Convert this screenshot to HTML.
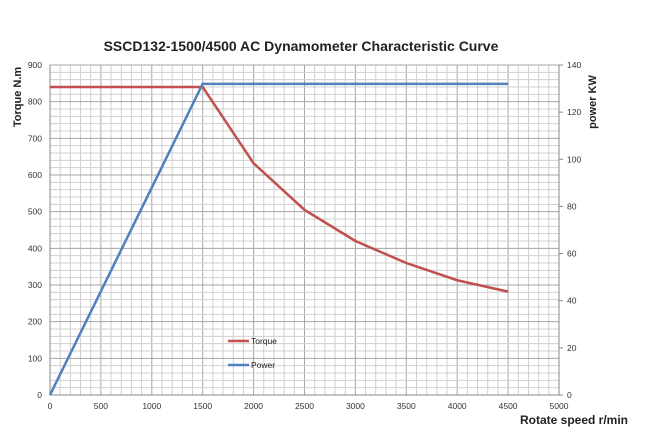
<!DOCTYPE html>
<html><head><meta charset="utf-8"><style>
body{margin:0;background:#fff;font-family:"Liberation Sans",sans-serif}
text{font-family:"Liberation Sans",sans-serif}
</style></head><body>
<svg id="c" width="650" height="429" xmlns="http://www.w3.org/2000/svg">
<g id="grid"></g>
<g id="axes"></g>
<g id="series"></g>
<text x="301" y="51" text-anchor="middle" font-size="14" font-weight="bold" fill="#222">SSCD132-1500/4500 AC Dynamometer Characteristic Curve</text>
<text transform="translate(21,97) rotate(-90)" text-anchor="middle" font-size="11" font-weight="bold" fill="#222">Torque N.m</text>
<text transform="translate(596,102) rotate(-90)" text-anchor="middle" font-size="11" font-weight="bold" fill="#222">power KW</text>
<text x="574" y="424" text-anchor="middle" font-size="12" font-weight="bold" fill="#222">Rotate speed r/min</text>
<g>
<line x1="228" y1="341" x2="249" y2="341" stroke="#c0504d" stroke-width="2.5"/>
<text x="251" y="344" font-size="8.5" fill="#222">Torque</text>
<line x1="228" y1="365" x2="249" y2="365" stroke="#4f81bd" stroke-width="2.5"/>
<text x="251" y="368" font-size="8.5" fill="#222">Power</text>
</g>
</svg>
<script>
const speeds=[0,1500,2000,2500,3000,3500,4000,4500];
const torque=[840,840,632,505,420,360,313,282];
const powerSpeeds=[0,1500,4500];
const power=[0,132,132];
const xTicks=[0,500,1000,1500,2000,2500,3000,3500,4000,4500,5000];
const yLeftTicks=[0,100,200,300,400,500,600,700,800,900];
const yRightTicks=[0,20,40,60,80,100,120,140];
const X0=50,X1=559,Y0=395,Y1=65;
const xs=v=>X0+(X1-X0)*v/5000;
const yl=v=>Y0-(Y0-Y1)*v/900;
const yr=v=>Y0-(Y0-Y1)*v/140;
const NS="http://www.w3.org/2000/svg";
function mk(p,t,a){const e=document.createElementNS(NS,t);for(const k in a)e.setAttribute(k,a[k]);p.appendChild(e);return e;}
const g=document.getElementById('grid'),ax=document.getElementById('axes'),se=document.getElementById('series');
for(let v=0;v<=5000;v+=100){const x=xs(v);const maj=v%500===0;
 const l=mk(g,'line',{x1:x,x2:x,y1:Y1,y2:Y0,stroke:maj?'#a6a6a6':'#d0d0d0','stroke-width':1});
 
 }
for(let v=0;v<=900;v+=20){const y=yl(v);const maj=v%100===0;
 const l=mk(g,'line',{x1:X0,x2:X1,y1:y,y2:y,stroke:maj?'#a6a6a6':'#d0d0d0','stroke-width':1});
 
 }
mk(ax,'line',{x1:X0,x2:X0,y1:Y1,y2:Y0,stroke:'#888'});
mk(ax,'line',{x1:X1,x2:X1,y1:Y1,y2:Y0,stroke:'#888'});
mk(ax,'line',{x1:X0,x2:X1,y1:Y0,y2:Y0,stroke:'#888'});
xTicks.forEach(v=>{const t=mk(ax,'text',{x:xs(v),y:Y0+14,'text-anchor':'middle','font-size':8.5,fill:'#333'});t.textContent=v;
 
 });
yLeftTicks.forEach(v=>{const t=mk(ax,'text',{x:X0-8,y:yl(v)+3,'text-anchor':'end','font-size':8.5,fill:'#333'});t.textContent=v;
 
 });
yRightTicks.forEach(v=>{mk(ax,'line',{x1:X1,x2:X1+4,y1:yr(v),y2:yr(v),stroke:'#888'});
 const t=mk(ax,'text',{x:X1+8,y:yr(v)+3,'font-size':8.5,fill:'#333'});t.textContent=v;
 
 });
const tp=mk(se,'polyline',{points:speeds.map((s,i)=>xs(s)+','+yl(torque[i])).join(' '),fill:'none',stroke:'#c0504d','stroke-width':2.5});


const pp=mk(se,'polyline',{points:powerSpeeds.map((s,i)=>xs(s)+','+yr(power[i])).join(' '),fill:'none',stroke:'#4f81bd','stroke-width':2.5});


</script>
</body></html>
